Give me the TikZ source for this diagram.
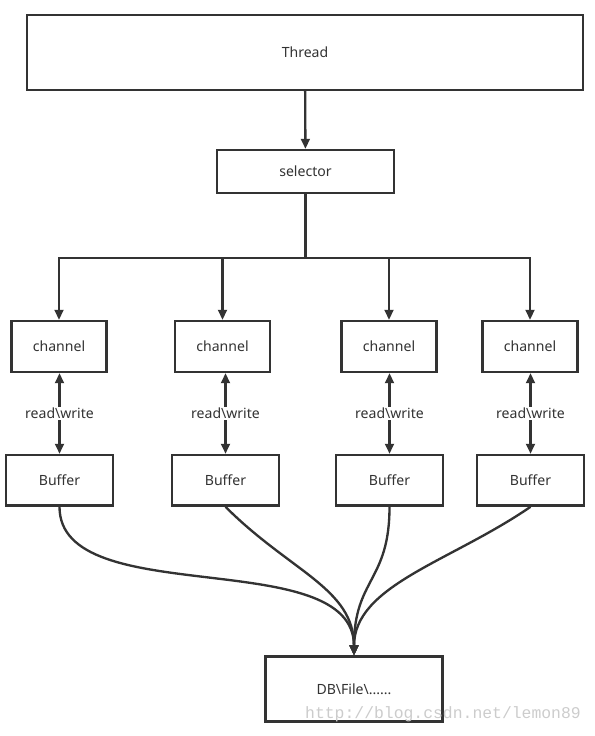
\documentclass[tikz,border=0pt]{standalone}
\usepackage{fontspec}
\setmainfont{Noto Sans}
\newfontfamily\markfont{Liberation Mono}
\usetikzlibrary{arrows.meta}
\definecolor{ink}{HTML}{333333}
\begin{document}
\begin{tikzpicture}[x=0.03cm,y=-0.03cm,>={Triangle[length=8.5pt,width=7.5pt]},line width=2pt,draw=ink,text=ink,font=\fontsize{12}{14}\selectfont]
        \tikzstyle{block} = [rectangle, draw=ink, fill=white, text centered, inner sep=0pt]
        \tikzstyle{chan} = [block, minimum width=2.85cm, minimum height=1.53cm]
        \tikzstyle{buf} = [block, minimum width=3.21cm, minimum height=1.52cm]
        \tikzstyle{arrow} = [->, draw=ink]
        \tikzstyle{rw} = [fill=white, inner sep=1pt, text=ink]

        \useasboundingbox (0,0) rectangle (595,736);

        % Nodes
        \node[block, minimum width=16.68cm, minimum height=2.25cm] (thread) at (305,52.5) {Thread};
        \node[block, minimum width=5.31cm, minimum height=1.29cm] (selector) at (305.5,171.5) {selector};

        % Channels
        \node[chan] (ch1) at (59,346.5) {channel};
        \node[chan] (ch2) at (222.5,346.5) {channel};
        \node[chan] (ch3) at (389,346.5) {channel};
        \node[chan] (ch4) at (530,346.5) {channel};

        % Buffers
        \node[buf] (buf1) at (59.5,480.3) {Buffer};
        \node[buf] (buf2) at (225.5,480.3) {Buffer};
        \node[buf] (buf3) at (389.5,480.3) {Buffer};
        \node[buf] (buf4) at (530.5,480.3) {Buffer};

        % Storage
        \node[block, minimum width=5.31cm, minimum height=1.95cm] (db) at (354,689) {DB\textbackslash File\textbackslash......};

        % Thread to selector
        \draw[arrow] (thread) -- (selector);

        % Selector fans out to the channels
        \draw (selector.south) -- ++(0,64) coordinate(bus);
        \draw[arrow] (bus) -| (ch1.north);
        \draw[arrow] (bus) -| (ch2.north);
        \draw[arrow] (bus) -| (ch3.north);
        \draw[arrow] (bus) -| (ch4.north);

        % Channel <-> buffer
        \draw[arrow, <->] (buf1.north) -- node[rw] {read\textbackslash write} (buf1.north |- ch1.south);
        \draw[arrow, <->] (buf2.north) -- node[rw] {read\textbackslash write} (buf2.north |- ch2.south);
        \draw[arrow, <->] (buf3.north) -- node[rw] {read\textbackslash write} (buf3.north |- ch3.south);
        \draw[arrow, <->] (buf4.north) -- node[rw] {read\textbackslash write} (buf4.north |- ch4.south);

        % Buffers to storage
        \draw[arrow] (buf1.south) .. controls +(0,105) and +(0,-112) .. (db.north);
        \draw[arrow] (buf2.south) .. controls +(65,65) and +(0,-67) .. (db.north);
        \draw[arrow] (buf3.south) .. controls +(0,75) and +(0,-77) .. (db.north);
        \draw[arrow] (buf4.south) .. controls +(-80,55) and +(0,-70) .. (db.north);

        % Watermark
        \node[text=black!20, font=\markfont\fontsize{14}{16}\selectfont, inner sep=0pt] (mark) at (443,714) {http://blog.csdn.net/lemon89};
    \end{tikzpicture}
\end{document}
